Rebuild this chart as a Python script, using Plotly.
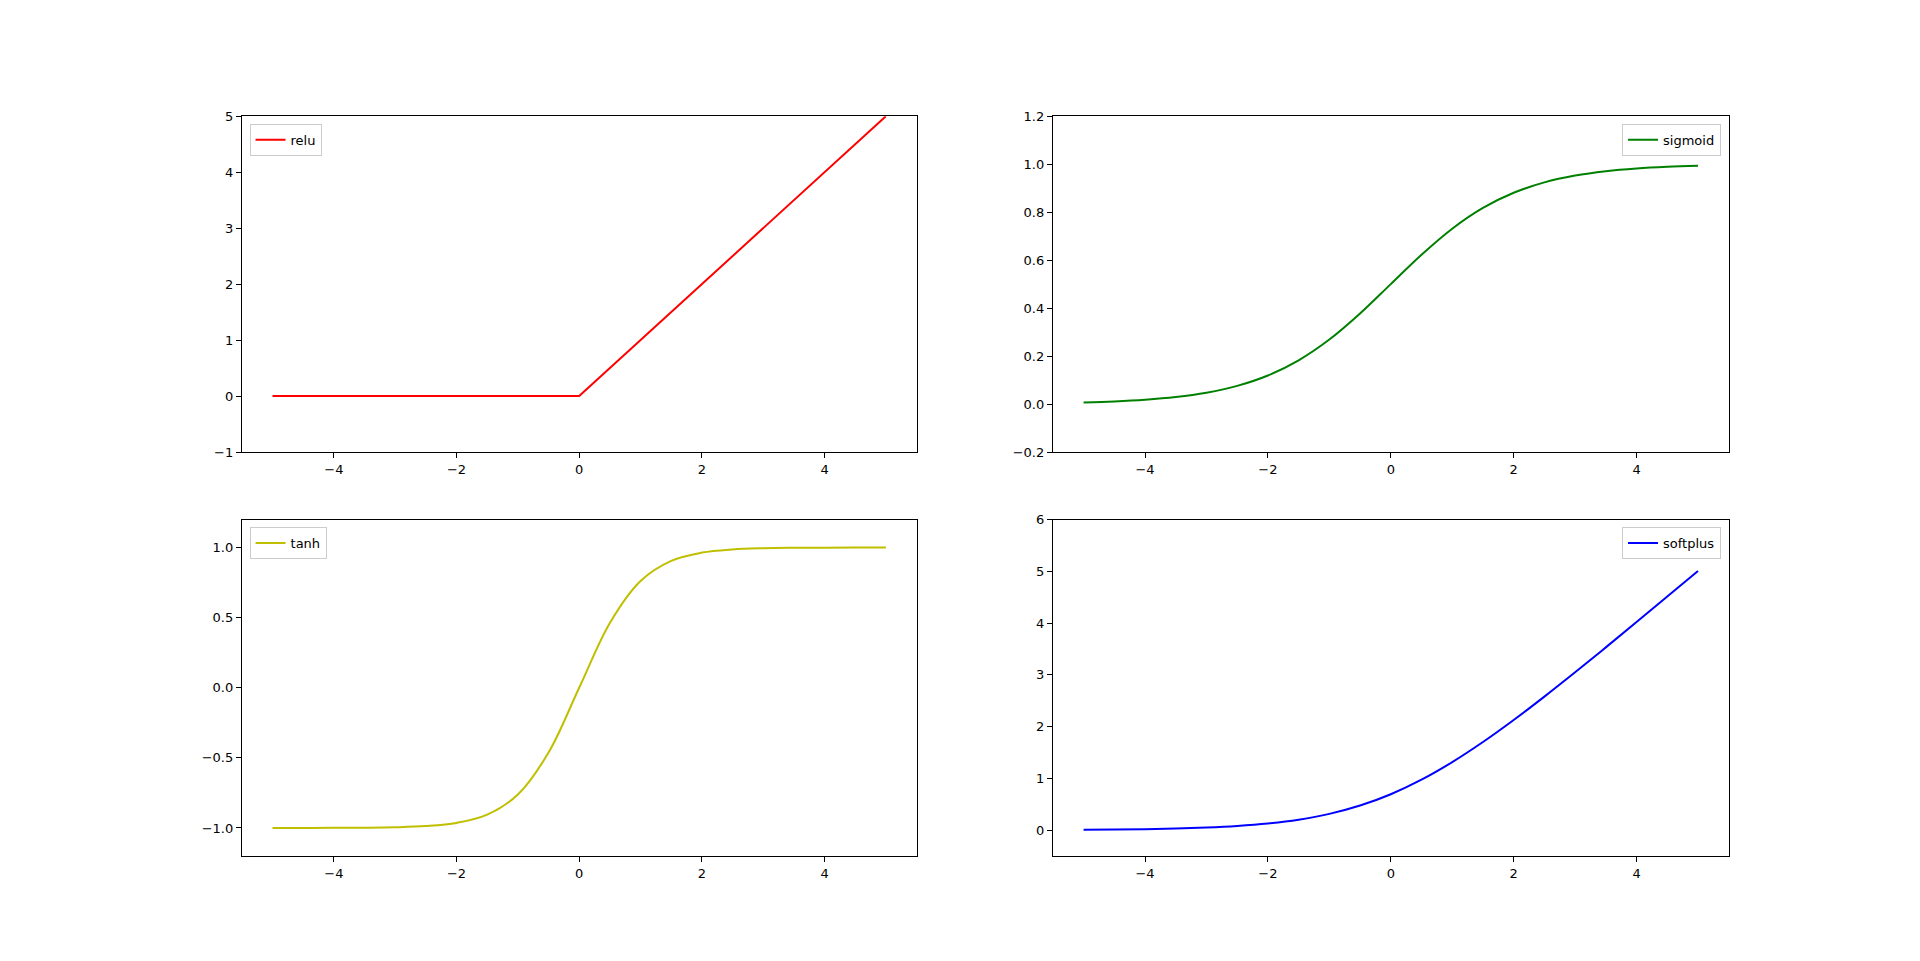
import plotly.graph_objects as go

x_relu = [-5, 0, 5]
y_relu = [0, 0, 5]

x_s = [-5, -4.5, -4, -3.5, -3, -2.5, -2, -1.5, -1, -0.5, 0, 0.5, 1, 1.5, 2, 2.5, 3, 3.5, 4, 4.5, 5]
y_sigmoid = [0.0067, 0.0110, 0.0180, 0.0293, 0.0474, 0.0759, 0.1192, 0.1824, 0.2689, 0.3775, 0.5,
             0.6225, 0.7311, 0.8176, 0.8808, 0.9241, 0.9526, 0.9707, 0.9820, 0.9890, 0.9933]
y_tanh = [-0.9999, -0.9998, -0.9993, -0.9982, -0.9951, -0.9866, -0.9640, -0.9051, -0.7616, -0.4621, 0.0,
          0.4621, 0.7616, 0.9051, 0.9640, 0.9866, 0.9951, 0.9982, 0.9993, 0.9998, 0.9999]
y_softplus = [0.0067, 0.0110, 0.0181, 0.0298, 0.0486, 0.0789, 0.1269, 0.2014, 0.3133, 0.4741, 0.6931,
              0.9741, 1.3133, 1.7014, 2.1269, 2.5789, 3.0486, 3.5298, 4.0181, 4.5110, 5.0067]

FONT = dict(family="DejaVu Sans", size=13, color="black")
fig = go.Figure()
fig.add_trace(go.Scatter(x=x_relu, y=y_relu, mode="lines", name="relu", showlegend=True,
                         line=dict(color="red", width=2), xaxis="x", yaxis="y", legend="legend"))
fig.add_trace(go.Scatter(x=x_s, y=y_sigmoid, mode="lines", name="sigmoid", line_shape="spline",
                         line=dict(color="#008000", width=2), xaxis="x2", yaxis="y2", legend="legend2"))
fig.add_trace(go.Scatter(x=x_s, y=y_tanh, mode="lines", name="tanh", line_shape="spline",
                         line=dict(color="#bfbf00", width=2), xaxis="x3", yaxis="y3", legend="legend3"))
fig.add_trace(go.Scatter(x=x_s, y=y_softplus, mode="lines", name="softplus", line_shape="spline",
                         line=dict(color="blue", width=2), xaxis="x4", yaxis="y4", legend="legend4"))

ax = dict(showgrid=False, zeroline=False, showline=True, linecolor="black", linewidth=1,
          mirror=True, ticks="outside", ticklen=5, tickcolor="black", tickfont=FONT)
L = [0.1218, 0.4732]
R = [0.5442, 0.8962]
T = [0.538, 0.893]
B = [0.111, 0.4667]
xr = [-5.5, 5.5]
xt = dict(tickvals=[-4, -2, 0, 2, 4])
fig.update_layout(
    width=1920, height=961, paper_bgcolor="white", plot_bgcolor="white",
    margin=dict(l=0, r=0, t=0, b=0), font=FONT, showlegend=True,
    xaxis=dict(ax, domain=L, range=xr, anchor="y", **xt),
    yaxis=dict(ax, domain=T, range=[-1, 5], dtick=1, anchor="x"),
    xaxis2=dict(ax, domain=R, range=xr, anchor="y2", **xt),
    yaxis2=dict(ax, domain=T, range=[-0.2, 1.2], dtick=0.2, tickformat=".1f", anchor="x2"),
    xaxis3=dict(ax, domain=L, range=xr, anchor="y3", **xt),
    yaxis3=dict(ax, domain=B, range=[-1.2, 1.2], tickvals=[-1, -0.5, 0, 0.5, 1], tickformat=".1f", anchor="x3"),
    xaxis4=dict(ax, domain=R, range=xr, anchor="y4", **xt),
    yaxis4=dict(ax, domain=B, range=[-0.5, 6], dtick=1, anchor="x4"),
)
lg = dict(bgcolor="white", bordercolor="#cccccc", borderwidth=1, font=FONT, visible=True)
fig.update_layout(
    legend=dict(lg, x=L[0] + 0.004, y=T[1] - 0.008, xanchor="left", yanchor="top"),
    legend2=dict(lg, x=R[1] - 0.004, y=T[1] - 0.008, xanchor="right", yanchor="top"),
    legend3=dict(lg, x=L[0] + 0.004, y=B[1] - 0.008, xanchor="left", yanchor="top"),
    legend4=dict(lg, x=R[1] - 0.004, y=B[1] - 0.008, xanchor="right", yanchor="top"),
)
fig.write_html("out.html")
